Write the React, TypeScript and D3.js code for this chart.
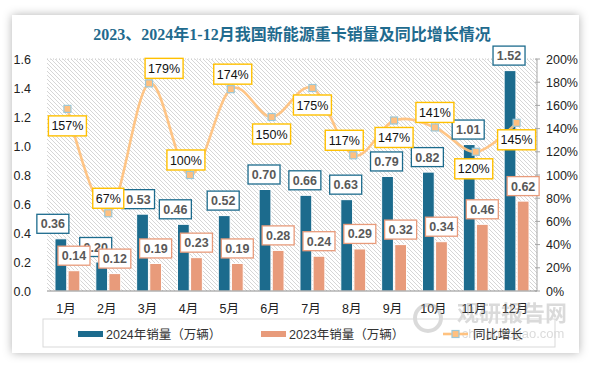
import React from 'react';
import * as d3 from 'd3';

const months = ['1月','2月','3月','4月','5月','6月','7月','8月','9月','10月','11月','12月'];
const sales2024 = [0.36,0.20,0.53,0.46,0.52,0.70,0.66,0.63,0.79,0.82,1.01,1.52];
const sales2023 = [0.14,0.12,0.19,0.23,0.19,0.28,0.24,0.29,0.32,0.34,0.46,0.62];
const growth = [157,67,179,100,174,150,175,117,147,141,120,145];
const growthLabelSide = ['below','above','above','above','above','below','below','above','below','above','below','below'];
const growthLabelShift = [0,0,15,-4,2,0,0,-9,0,0,-2,0];
const bar24LabelShift = [-7,-5,-3,-7,0,0,0,0,0,0,0,0];
const leftTicks = [0,0.2,0.4,0.6,0.8,1.0,1.2,1.4,1.6];
const rightTicks = [0,20,40,60,80,100,120,140,160,180,200];
const seriesNames = ['2024年销量（万辆）','2023年销量（万辆）','同比增长'];

const C24 = '#1C6B8D';
const C23 = '#E89B7B';
const CLINE = '#FFC27F';
const CMARK_STROKE = '#9DC8D8';
const CGOLD = '#FFC000';
const SANS = '"Liberation Sans", "Noto Sans CJK SC", sans-serif';

export default function App() {
  const W = 594, H = 366;
  const left = 47, right = 537, top = 59, bottom = 291;
  const x = d3.scaleBand<string>().domain(months).range([left, right]).paddingInner(0.39).paddingOuter(0.195);
  const xs = d3.scaleBand<string>().domain(['2024','2023']).range([0, x.bandwidth()]).paddingInner(0.1);
  const yL = d3.scaleLinear().domain([0, 1.6]).range([bottom, top]);
  const yR = d3.scaleLinear().domain([0, 200]).range([bottom, top]);
  const cx = (m: string) => (x(m) as number) + x.bandwidth() / 2;

  const line = d3.line<number>()
    .x((_, i) => cx(months[i]))
    .y(d => yR(d))
    .curve(d3.curveCardinal.tension(0));

  const barLabel = (v: number, bx: number, color: string, key: string) => {
    const w = 32, h = 19;
    const cyy = yL(v) - 15;
    return (
      <g key={key}>
        <rect x={bx - w / 2} y={cyy - h / 2} width={w} height={h} fill="#fff" stroke={color} strokeWidth={1.3} />
        <text x={bx} y={cyy + 4.5} textAnchor="middle" fontSize={12.5} fontWeight="bold" fill="#595959" fontFamily={SANS}>{v.toFixed(2)}</text>
      </g>
    );
  };

  return (
    <svg width={W} height={H} style={{ position: 'absolute', left: 0, top: 0 }}>
      <defs>
        <filter id="sh" x="-10%" y="-10%" width="120%" height="120%">
          <feDropShadow dx="0" dy="0" stdDeviation="5" floodColor="#000" floodOpacity="0.3" />
        </filter>
        <pattern id="hatch" patternUnits="userSpaceOnUse" width="4" height="4">
          <path d="M-1,-1 L5,5 M-1,3 L1,5 M3,-1 L5,1" stroke="#cbcbcb" strokeWidth="0.8" />
        </pattern>
      </defs>
      <rect x={0} y={0} width={W} height={H} fill="#fff" />
      <rect x={12} y={15} width={567} height={338} fill="#fff" filter="url(#sh)" />

      <text x={292} y={40} textAnchor="middle" fontSize={16} fontWeight="bold" fill="#1F6B8E"
        fontFamily='"Liberation Serif", "Noto Sans CJK SC", serif'>2023、2024年1-12月我国新能源重卡销量及同比增长情况</text>

      {/* plot area */}
      <rect x={left} y={top} width={right - left} height={bottom - top} fill="url(#hatch)" />
      <line x1={left} x2={right} y1={top} y2={top} stroke="#c8c8c8" strokeDasharray="1,2" />

      {/* left axis labels */}
      {leftTicks.map(t => (
        <text key={'l' + t} x={31} y={yL(t) + 4.5} textAnchor="end" fontSize={12.5} fill="#222" fontFamily={SANS}>{t.toFixed(1)}</text>
      ))}
      {/* right axis */}
      <line x1={right} x2={right} y1={top} y2={bottom} stroke="#a6a6a6" strokeWidth={1} />
      {rightTicks.map(t => (
        <g key={'r' + t}>
          <line x1={right - 2} x2={right + 3} y1={yR(t)} y2={yR(t)} stroke="#a6a6a6" />
          <text x={546} y={yR(t) + 4.5} fontSize={12.5} fill="#222" fontFamily={SANS}>{t}%</text>
        </g>
      ))}

      {/* bars */}
      {months.map((m, i) => (
        <g key={'b' + m}>
          <rect x={(x(m) as number) + (xs('2024') as number)} y={yL(sales2024[i])} width={xs.bandwidth()} height={bottom - yL(sales2024[i])} fill={C24} stroke="#fff" strokeWidth={1} />
          <rect x={(x(m) as number) + (xs('2023') as number)} y={yL(sales2023[i])} width={xs.bandwidth()} height={bottom - yL(sales2023[i])} fill={C23} stroke="#fff" strokeWidth={1} />
        </g>
      ))}
      <line x1={left} x2={right} y1={bottom} y2={bottom} stroke="#8c8c8c" strokeWidth={1} />

      {/* month labels */}
      {months.map(m => (
        <text key={'m' + m} x={cx(m) - 1.5} y={313} textAnchor="middle" fontSize={12.5} fill="#222" fontFamily={SANS}>{m}</text>
      ))}

      {/* growth line */}
      <path d={line(growth) || ''} fill="none" stroke={CLINE} strokeWidth={2.6} strokeOpacity={0.95} />
      {growth.map((g, i) => (
        <rect key={'mk' + i} x={cx(months[i]) - 3.5} y={yR(g) - 3.5} width={7} height={7} fill="#FFC080" stroke={CMARK_STROKE} strokeWidth={1.2} />
      ))}

      {/* bar labels */}
      {months.map((m, i) => barLabel(sales2024[i], (x(m) as number) + (xs('2024') as number) + xs.bandwidth() / 2 - 1 + bar24LabelShift[i], C24, 'la' + i))}
      {months.map((m, i) => barLabel(sales2023[i], (x(m) as number) + (xs('2023') as number) + xs.bandwidth() / 2, C23, 'lb' + i))}

      {/* growth labels */}
      {growth.map((g, i) => {
        const txt = g + '%';
        const w = txt.length === 3 ? 31 : 38;
        const h = 20;
        const py = yR(g);
        const cyy = growthLabelSide[i] === 'below' ? py + 17 : py - 15;
        const px = cx(months[i]) + growthLabelShift[i];
        return (
          <g key={'g' + i}>
            <rect x={px - w / 2} y={cyy - h / 2} width={w} height={h} fill="#fff" stroke={CGOLD} strokeWidth={1.4} />
            <text x={px} y={cyy + 4.5} textAnchor="middle" fontSize={12.5} fill="#111" fontFamily={SANS}>{txt}</text>
          </g>
        );
      })}

      {/* watermark */}
      <g opacity={0.3} fontFamily={SANS}>
        <circle cx={428} cy={318} r={13} fill="none" stroke="#888" strokeWidth={4} />
        <text x={512} y={321} textAnchor="middle" fontSize={22} fontWeight="bold" fill="#888">观研报告网</text>
        <text x={513} y={338} textAnchor="middle" fontSize={13} fill="#888">chinabaogao.com</text>
      </g>

      {/* legend */}
      <rect x={43} y={319} width={512} height={28} fill="none" stroke="#d9d9d9" strokeWidth={1} />
      <rect x={78} y={331} width={25} height={6} fill={C24} />
      <text x={106} y={338.5} fontSize={12.5} fill="#333" fontFamily={SANS}>{seriesNames[0]}</text>
      <rect x={261} y={331} width={25} height={6} fill={C23} />
      <text x={289} y={338.5} fontSize={12.5} fill="#333" fontFamily={SANS}>{seriesNames[1]}</text>
      <line x1={443} x2={468} y1={334} y2={334} stroke={CLINE} strokeWidth={2.6} />
      <rect x={452} y={330.5} width={7} height={7} fill="#FFC080" stroke={CMARK_STROKE} strokeWidth={1.2} />
      <text x={473} y={338.5} fontSize={12.5} fill="#333" fontFamily={SANS}>{seriesNames[2]}</text>
    </svg>
  );
}
